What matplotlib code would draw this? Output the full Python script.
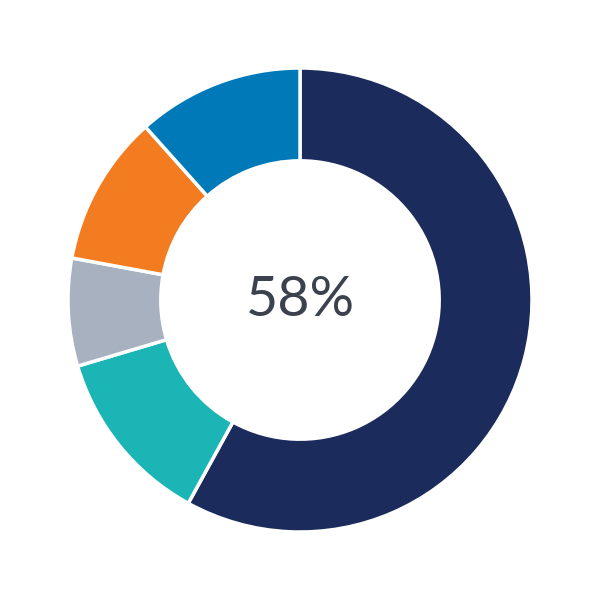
import matplotlib
matplotlib.use("Agg")
import matplotlib.pyplot as plt

# share of each slice, clockwise from 12 o'clock
labels = ["Navy", "Teal", "Gray", "Orange", "Blue"]
values = [58, 12.4, 7.5, 10.5, 11.6]
colors = ["#1b2b5b", "#1cb5b6", "#a7b1c0", "#f37c21", "#0079b8"]
center_text = "58%"

fig = plt.figure(figsize=(6, 6), dpi=100)
ax = fig.add_axes([0, 0, 1, 1])

ax.pie(values, colors=colors, startangle=90, counterclock=False,
       radius=1.0,
       wedgeprops=dict(width=0.4, edgecolor="white", linewidth=2.5))

ax.text(0, 0, center_text, ha="center", va="center", fontsize=40,
        family=["Lato", "DejaVu Sans"], color="#3b414d")

lim = 300 / 232
ax.set_xlim(-lim, lim)
ax.set_ylim(-lim, lim)
ax.set_aspect("equal")
ax.axis("off")

fig.savefig("out.png", dpi=100, facecolor="white")
